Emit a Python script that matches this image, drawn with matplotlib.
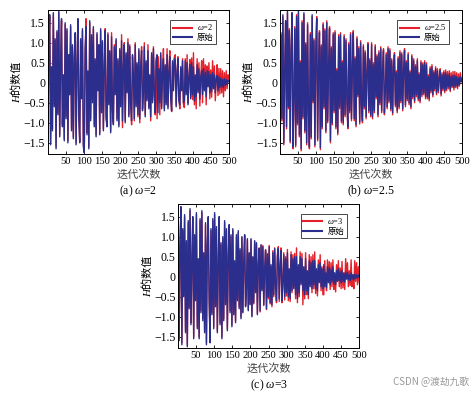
import numpy as np
import matplotlib.pyplot as plt

plt.rcParams['font.family'] = ['Liberation Serif', 'Noto Sans CJK SC', 'DejaVu Sans']
plt.rcParams['mathtext.fontset'] = 'custom'
plt.rcParams['mathtext.rm'] = 'Liberation Serif'
plt.rcParams['mathtext.it'] = 'Liberation Serif:italic'

# 迭代次数 (200 个采样点)
iters = np.linspace(1, 500, 200)

# (a) omega = 2
blue_a = [-1.40, 0.90, 1.70, -1.55, 0.40, -1.20, 1.75, -0.60, 1.10, -1.65,
          1.30, -0.80, 1.80, -1.35, 0.55, 1.60, -1.10, 0.20, -1.45, 1.50,
          -0.90, 1.35, -1.50, 0.70, -0.30, 1.45, -1.20, 0.95, -1.40, 0.60,
          1.25, -1.55, 0.45, 1.60, -0.85, -1.50, 1.10, -0.40, 1.35, -1.60,
          -1.75, 0.85, 1.40, -1.30, 0.30, -1.65, 1.55, -0.95, 1.20, -0.50,
          1.40, -1.10, 0.60, -1.35, 1.25, -0.20, 0.95, -1.30, 1.35, -0.75,
          1.05, -1.20, 0.35, 1.30, -0.90, -1.10, 1.20, -0.55, 0.80, -1.25,
          1.15, -0.70, -1.05, 0.90, -0.30, 1.10, -0.95, 0.60, -1.10, 0.85,
          -0.60, 1.05, -0.95, 0.40, 0.95, -1.00, 0.75, -0.25, 1.00, -0.85,
          0.90, -0.55, -0.95, 0.70, 0.20, -0.90, 0.95, -0.60, 0.50, -0.80,
          0.85, -0.90, 0.40, 0.80, -0.70, -0.25, 0.90, -0.85, 0.55, -0.45,
          0.80, -0.65, 0.20, -0.85, 0.75, -0.50, 0.85, -0.30, -0.75, 0.60,
          0.70, -0.75, 0.35, -0.50, 0.75, -0.65, 0.25, 0.60, -0.70, 0.45,
          -0.55, 0.70, -0.65, 0.30, 0.65, -0.40, -0.70, 0.55, -0.20, 0.60,
          0.55, -0.60, 0.25, 0.60, -0.45, -0.55, 0.40, -0.20, 0.55, -0.50,
          -0.45, 0.55, -0.30, 0.50, -0.55, 0.15, 0.45, -0.40, 0.50, -0.30,
          0.40, -0.45, 0.20, -0.35, 0.45, -0.25, 0.35, -0.40, 0.15, 0.30,
          -0.30, 0.35, -0.20, 0.25, -0.35, 0.30, -0.10, 0.28, -0.25, 0.20,
          -0.22, 0.25, -0.15, 0.20, -0.25, 0.10, 0.18, -0.20, 0.15, -0.12,
          0.12, -0.10, 0.08, -0.12, 0.10, -0.06, 0.08, -0.05, 0.06, 0.03]
red_a = [-1.35, 0.85, 1.65, -1.50, 0.35, -1.15, 1.70, -0.55, 1.05, -1.60,
         1.25, -0.75, 1.75, -1.30, 0.50, 1.55, -1.05, 0.15, -1.40, 1.45,
         -0.85, 1.30, -1.45, 0.65, -0.25, 1.40, -1.15, 0.90, -1.35, 0.55,
         1.20, -1.50, 0.40, 1.55, -0.80, -1.45, 1.05, -0.35, 1.30, -1.55,
         -1.70, 0.80, 1.60, -1.25, 0.25, -1.60, 1.50, -0.90, 1.15, -0.45,
         1.35, -1.05, 0.55, -1.30, 1.20, -0.15, 0.90, -1.25, 1.30, -0.70,
         1.00, -1.15, 0.30, 1.35, -0.85, -1.05, 1.25, -0.50, 0.75, -1.20,
         1.25, -0.65, -1.00, 0.95, -0.25, 1.05, -0.90, 0.55, -1.05, 0.80,
         -0.55, 1.20, -1.12, 0.35, 1.00, -0.95, 0.70, -0.20, 1.10, -0.80,
         0.95, -0.50, -1.05, 0.65, 0.15, -0.95, 1.00, -0.55, 0.45, -0.85,
         0.80, -1.00, 0.35, 0.90, -0.65, -0.20, 1.00, -0.80, 0.50, -0.40,
         0.95, -0.60, 0.15, -0.95, 0.70, -0.45, 0.90, -0.25, -0.80, 0.55,
         -0.90, 0.65, 0.30, -0.80, 0.70, -0.60, 0.20, 0.85, -0.65, 0.40,
         -0.50, 0.85, -0.60, 0.25, 0.80, -0.35, -0.72, 0.50, -0.15, 0.65,
         0.70, -0.55, 0.20, 0.65, -0.40, -0.65, 0.35, -0.15, 0.60, -0.55,
         -0.62, 0.60, -0.25, 0.70, -0.50, 0.10, 0.58, -0.35, 0.62, -0.42,
         0.75, -0.55, 0.15, -0.65, 0.60, -0.20, 0.50, -0.58, 0.10, 0.55,
         -0.50, 0.60, -0.15, 0.45, -0.55, 0.42, -0.05, 0.50, -0.40, 0.32,
         -0.36, 0.55, -0.10, 0.42, -0.45, 0.05, 0.45, -0.32, 0.36, -0.28,
         0.35, -0.25, 0.30, -0.35, 0.25, -0.20, 0.30, -0.15, 0.20, 0.05]

# (b) omega = 2.5
blue_b = [-1.75, 1.20, -0.90, 1.70, -1.50, 0.30, 1.55, -1.10, 1.80, -0.60,
          1.30, -1.45, 0.80, 1.75, -1.60, -0.40, 1.35, -1.55, 1.65, -1.00,
          1.80, -1.30, 0.50, -1.65, 1.50, -0.85, 1.75, -1.20, 0.95, -1.50,
          1.45, -0.70, -1.60, 1.20, -1.35, 1.70, -0.45, 1.05, -1.55, 0.80,
          1.60, -1.40, 0.35, 1.25, -1.62, 0.90, -1.10, 1.45, -0.60, 1.30,
          -1.20, 1.50, -0.95, 0.40, 1.35, -1.45, 0.85, -1.00, 1.20, -0.70,
          1.25, -1.10, 0.30, -1.25, 1.15, -0.60, 1.20, -0.95, 0.50, -1.00,
          1.15, -0.80, 1.05, -0.45, -1.10, 0.95, -0.70, 1.20, -0.90, 0.35,
          1.25, -0.90, 0.60, -1.05, 1.10, -0.30, 0.85, -0.98, 1.00, -0.55,
          -0.95, 0.90, -0.60, 0.75, -0.85, 0.25, 0.95, -0.70, 0.55, -0.80,
          0.95, -0.85, 0.45, -0.70, 0.90, -0.35, 0.65, -0.80, 0.75, -0.50,
          0.85, -0.70, 0.30, 0.80, -0.75, -0.20, 0.70, -0.60, 0.85, -0.45,
          0.80, -0.65, 0.55, -0.75, 0.40, 0.70, -0.55, 0.25, -0.70, 0.60,
          -0.60, 0.75, -0.45, 0.70, -0.65, 0.30, 0.80, -0.55, 0.50, -0.40,
          0.70, -0.50, 0.25, -0.60, 0.65, -0.35, 0.55, -0.45, 0.40, -0.30,
          0.55, -0.40, 0.20, -0.45, 0.50, -0.30, 0.45, -0.25, 0.50, -0.35,
          0.45, -0.35, 0.15, -0.40, 0.35, -0.20, 0.40, -0.30, 0.25, -0.15,
          0.35, -0.25, 0.30, -0.20, 0.10, 0.30, -0.28, 0.20, -0.15, 0.25,
          -0.20, 0.25, -0.15, 0.20, -0.10, 0.22, -0.18, 0.15, -0.08, 0.18,
          -0.12, 0.18, -0.08, 0.15, -0.10, 0.12, -0.05, 0.15, 0.02, 0.08]
red_b = [-1.70, 1.25, -0.95, 1.65, -1.55, 0.35, 1.50, -1.15, 1.75, -0.65,
         1.35, -1.50, 0.85, 1.70, -1.65, -0.45, 1.40, -1.60, 1.70, -1.05,
         1.75, -1.35, 0.55, -1.70, 1.55, -0.90, 1.70, -1.25, 1.00, -1.55,
         1.50, -0.75, -1.65, 1.25, -1.40, 1.65, -0.50, 1.10, -1.60, 0.85,
         1.65, -1.45, 0.40, 1.30, -1.67, 0.95, -1.15, 1.50, -0.65, 1.35,
         -1.25, 1.55, -1.00, 0.45, 1.40, -1.50, 0.90, -1.05, 1.25, -0.75,
         1.30, -1.15, 0.35, -1.30, 1.20, -0.65, 1.25, -1.00, 0.55, -1.05,
         1.20, -0.85, 1.10, -0.50, -1.15, 1.00, -0.75, 1.25, -0.95, 0.40,
         1.30, -0.95, 0.65, -1.10, 1.15, -0.35, 0.90, -1.03, 1.05, -0.60,
         -1.00, 0.95, -0.65, 0.80, -0.90, 0.30, 1.00, -0.75, 0.60, -0.85,
         1.00, -0.90, 0.50, -0.75, 0.95, -0.40, 0.70, -0.85, 0.80, -0.55,
         0.90, -0.75, 0.35, 0.85, -0.80, -0.25, 0.75, -0.65, 0.90, -0.50,
         0.85, -0.70, 0.60, -0.80, 0.45, 0.75, -0.60, 0.30, -0.75, 0.65,
         -0.65, 0.80, -0.50, 0.75, -0.70, 0.35, 0.85, -0.60, 0.55, -0.45,
         0.75, -0.55, 0.30, -0.65, 0.70, -0.40, 0.60, -0.50, 0.45, -0.35,
         0.60, -0.45, 0.25, -0.50, 0.55, -0.35, 0.50, -0.30, 0.55, -0.40,
         0.50, -0.40, 0.20, -0.45, 0.40, -0.25, 0.45, -0.35, 0.30, -0.20,
         0.40, -0.30, 0.35, -0.25, 0.15, 0.35, -0.33, 0.25, -0.20, 0.30,
         -0.25, 0.32, -0.20, 0.28, -0.15, 0.30, -0.22, 0.25, -0.12, 0.28,
         -0.18, 0.28, -0.12, 0.25, -0.15, 0.22, -0.08, 0.25, 0.05, 0.12]

# (c) omega = 3
blue_c = [1.80, -1.60, 0.70, 1.75, -1.70, 1.20, -0.50, 1.55, -1.40, 0.90,
          -1.75, 1.40, -0.80, 1.70, -1.20, 0.35, 1.50, -1.55, 1.05, -0.60,
          1.60, -1.30, 0.45, -1.55, 1.45, -0.90, 1.65, -1.10, 0.60, -1.40,
          1.35, -1.70, 0.80, 1.50, -0.60, -1.65, 1.20, -0.95, 1.45, -1.30,
          1.60, -0.75, 1.25, -1.40, 0.30, 1.50, -1.20, 0.85, -1.55, 1.00,
          -1.10, 1.40, -0.70, 1.20, -1.35, 0.45, 1.30, -0.90, 1.05, -1.25,
          1.20, -0.95, 0.40, -1.15, 1.05, -0.60, 1.15, -0.80, 0.70, -1.05,
          1.00, -0.90, 0.35, 1.05, -0.75, -0.30, 0.95, -0.85, 0.60, -0.70,
          0.95, -1.00, 0.50, -0.65, 0.90, -0.40, 0.85, -0.95, 0.30, 0.70,
          -0.85, 0.80, -0.35, 0.75, -0.70, 0.20, 0.65, -0.80, 0.55, -0.50,
          0.75, -0.65, 0.30, -0.70, 0.60, -0.45, 0.70, -0.25, -0.60, 0.50,
          0.70, -0.55, 0.25, 0.65, -0.60, -0.15, 0.55, -0.50, 0.45, -0.40,
          0.60, -0.50, 0.20, -0.55, 0.55, -0.35, 0.45, -0.30, 0.50, -0.45,
          0.50, -0.55, 0.30, -0.40, 0.50, -0.20, 0.45, -0.35, 0.25, -0.45,
          0.45, -0.35, 0.15, -0.45, 0.40, -0.25, 0.35, -0.30, 0.40, -0.20,
          0.40, -0.30, 0.20, -0.35, 0.30, -0.15, 0.35, -0.25, 0.20, -0.30,
          0.30, -0.25, 0.10, -0.28, 0.25, -0.15, 0.22, -0.20, 0.18, -0.12,
          0.25, -0.18, 0.10, -0.20, 0.15, -0.12, 0.20, -0.10, 0.12, -0.15,
          0.15, -0.12, 0.08, -0.14, 0.12, -0.06, 0.10, -0.08, 0.05, -0.10,
          0.10, -0.06, 0.05, -0.08, 0.06, -0.04, 0.05, -0.03, 0.04, 0.00]
red_c = [1.75, -1.55, 0.65, 1.70, -1.65, 1.15, -0.45, 1.50, -1.35, 0.85,
         -1.70, 1.35, -0.75, 1.65, -1.15, 0.30, 1.45, -1.50, 1.00, -0.55,
         1.55, -1.25, 0.40, -1.50, 1.40, -0.85, 1.60, -1.05, 0.55, -1.35,
         1.30, -1.65, 0.75, 1.45, -0.55, -1.60, 1.15, -0.90, 1.40, -1.25,
         1.55, -0.70, 1.20, -1.35, 0.25, 1.45, -1.15, 0.80, -1.50, 0.95,
         -1.05, 1.35, -0.65, 1.15, -1.30, 0.40, 1.25, -0.85, 1.00, -1.20,
         1.15, -0.90, 0.35, -1.10, 1.00, -0.55, 1.10, -0.75, 0.65, -1.00,
         0.98, -0.88, 0.30, 1.02, -0.72, -0.25, 0.92, -0.82, 0.58, -0.68,
         0.92, -0.98, 0.48, -0.68, 0.88, -0.38, 0.82, -0.92, 0.28, 0.72,
         -0.88, 0.78, -0.30, 0.78, -0.72, 0.18, 0.68, -0.82, 0.58, -0.55,
         0.78, -0.68, 0.25, -0.75, 0.65, -0.50, 0.72, -0.20, -0.65, 0.55,
         0.75, -0.62, 0.20, 0.72, -0.65, -0.10, 0.60, -0.58, 0.50, -0.48,
         0.68, -0.60, 0.15, -0.62, 0.62, -0.40, 0.55, -0.25, 0.58, -0.55,
         0.72, -0.65, 0.25, -0.50, 0.62, -0.15, 0.58, -0.70, 0.20, -0.55,
         0.60, -0.45, 0.10, -0.55, 0.55, -0.20, 0.50, -0.40, 0.55, -0.30,
         0.62, -0.42, 0.15, -0.48, 0.42, -0.10, 0.55, -0.35, 0.25, -0.45,
         -0.45, 0.40, -0.05, -0.35, 0.42, -0.10, 0.38, -0.32, 0.35, -0.25,
         0.42, -0.32, 0.05, -0.38, 0.30, -0.10, 0.40, -0.25, 0.22, -0.30,
         0.38, -0.28, 0.10, -0.32, 0.45, -0.05, 0.35, -0.25, 0.15, -0.22,
         0.42, -0.25, 0.05, -0.30, 0.40, -0.12, 0.35, -0.20, 0.25, -0.15]

omega_labels = ['2', '2.5', '3']
captions = ['(a)', '(b)', '(c)']
xticks = [50, 100, 150, 200, 250, 300, 350, 400, 450, 500]
yticks = [-1.5, -1.0, -0.5, 0, 0.5, 1.0, 1.5]
ytick_labels = ['\u22121.5', '\u22121.0', '\u22120.5', '0', '0.5', '1.0', '1.5']

RED = '#e3212b'
BLUE = '#2b2e8c'

fig = plt.figure(figsize=(4.74, 3.95), dpi=100)
positions = [
    [0.101, 0.610, 0.382, 0.365],
    [0.591, 0.610, 0.384, 0.365],
    [0.376, 0.119, 0.382, 0.365],
]
series = [(red_a, blue_a), (red_b, blue_b), (red_c, blue_c)]

for k, pos in enumerate(positions):
    ax = fig.add_axes(pos)
    red, blue = series[k]
    ax.plot(iters, red, color=RED, lw=1.0, label=r'$\omega$=' + omega_labels[k])
    ax.plot(iters, blue, color=BLUE, lw=1.0, label='原始')
    ax.set_xlim(1, 500)
    ax.set_ylim(-1.78, 1.82)
    ax.set_xticks(xticks)
    ax.set_xticklabels([str(t) for t in xticks], fontsize=7.6)
    ax.set_yticks(yticks)
    ax.set_yticklabels(ytick_labels, fontsize=8.5)
    ax.tick_params(direction='in', top=True, right=True, length=2.5, width=0.6, pad=2)
    for s in ax.spines.values():
        s.set_linewidth(0.7)
    ax.set_ylabel('H的数值', fontsize=8, labelpad=1, fontstyle='italic')
    leg = ax.legend(loc='upper right', fontsize=6, handlelength=2.3,
                    handletextpad=0.6, borderpad=0.3, labelspacing=0.15,
                    bbox_to_anchor=(0.93, 0.93), borderaxespad=0,
                    fancybox=False, framealpha=1)
    leg.get_frame().set_edgecolor('black')
    leg.get_frame().set_linewidth(0.5)
    for h in leg.get_lines():
        h.set_linewidth(1.5)

    cx = pos[0] + pos[2] / 2
    ybot = pos[1]
    fig.text(cx, ybot - 0.052, '迭代次数', ha='center', va='center', fontsize=8, color='#444444')
    fig.text(cx, ybot - 0.095, captions[k] + r' $\omega$=' + omega_labels[k],
             ha='center', va='center', fontsize=8.5)

fig.text(0.99, 0.032, 'CSDN @渡劫九歌', ha='right', va='center', fontsize=7,
         color='#999999', family=['Noto Sans CJK SC', 'DejaVu Sans'])

fig.savefig('out.png', dpi=100)
